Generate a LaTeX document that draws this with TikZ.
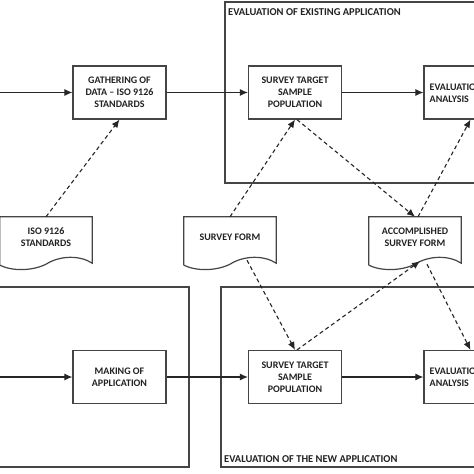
\documentclass[tikz,border=0pt]{standalone}
\usepackage{fontspec}
\setmainfont{Carlito}
\usetikzlibrary{calc,arrows.meta}
\definecolor{linegray}{HTML}{454545}
\definecolor{textc}{HTML}{222222}
\tikzset{
  boxtxt/.style={font=\fontsize{10bp}{12bp}\selectfont\bfseries, text=textc},
  box/.style={draw=linegray, line width=1.2bp, minimum width=93bp, minimum height=53bp, align=center, inner sep=0pt, boxtxt},
  docnode/.style={minimum width=92bp, minimum height=46bp, align=center, inner sep=0pt, boxtxt},
  docline/.style={draw=linegray, line width=1.2bp},
  frame/.style={draw=linegray, line width=1.3bp},
  lbl/.style={font=\fontsize{10.5bp}{12bp}\selectfont\bfseries, text=textc, inner sep=0pt, anchor=west},
  flow/.style={-{Latex[length=8bp,width=7bp]}, line width=1.1bp, draw=black!85},
  dflow/.style={flow, dash pattern=on 4bp off 3bp},
}
\newcommand\docpath[1]{%
  \draw[docline] ($(#1.south west)+(0,2)$) -- (#1.north west) -- (#1.north east) -- (#1.south east)
    .. controls ($(#1.south east)+(-12,-8)$) and ($(#1.south east)+(-32,-8)$) .. ($(#1.south)+(0,1)$)
    .. controls ($(#1.south)+(-14,8)$) and ($(#1.south)+(-34,8)$) .. ($(#1.south west)+(0,2)$);}
\begin{document}
\begin{tikzpicture}[x=1bp,y=-1bp]
\useasboundingbox (0,0) rectangle (474,474);
\clip (0,0) rectangle (474,474);
\fill[white] (0,0) rectangle (474,474);
% frames
\draw[frame] (225,2) rectangle (490,183);
\draw[frame] (-10,287) rectangle (189,467);
\draw[frame] (221,287) rectangle (490,467);
\node[lbl] (lab1) at (228,12) {EVALUATION OF EXISTING APPLICATION};
\node[lbl] (lab2) at (224,459) {EVALUATION OF THE NEW APPLICATION};
% boxes
\node[box] (gath) at (119.5,92.5) {GATHERING OF\\DATA -- ISO 9126\\STANDARDS};
\node[box] (st1) at (295,92.5) {SURVEY TARGET\\SAMPLE\\POPULATION};
\node[box] (ev1) at (470.5,92.5) {};
\node[boxtxt, anchor=west, align=left, inner sep=0pt] (ev1t) at (429.5,93) {EVALUATION\\ANALYSIS};
\node[box] (mk) at (119.5,377) {MAKING OF\\APPLICATION};
\node[box] (st2) at (295,377) {SURVEY TARGET\\SAMPLE\\POPULATION};
\node[box] (ev2) at (470.5,377) {};
\node[boxtxt, anchor=west, align=left, inner sep=0pt] (ev2t) at (429.5,377) {EVALUATION\\ANALYSIS};
% documents
\node[docnode] (iso) at (46,240) {};
\node[boxtxt, align=center] (isot) at (46,237) {ISO 9126\\STANDARDS};
\node[docnode] (sf) at (230,240) {};
\node[boxtxt] (sft) at (230,237) {SURVEY FORM};
\node[docnode] (acc) at (415,240) {};
\node[boxtxt, align=center] (acct) at (415,237) {ACCOMPLISHED\\SURVEY FORM};
\docpath{iso}
\docpath{sf}
\docpath{acc}
% entry points
\coordinate (in1) at (0,92.5);
\coordinate (in2) at (0,377);
% solid flows
\draw[flow] (in1) -- (gath.west);
\draw[flow] (gath.east) -- (st1.west);
\draw[flow] (st1.east) -- (ev1.west);
\draw[flow] (in2) -- (mk.west);
\draw[flow] (mk.east) -- (st2.west);
\draw[flow] (st2.east) -- (ev2.west);
% dashed flows
\draw[dflow] (iso.north) -- (gath.south);
\draw[dflow] (sf.north) -- (st1.south);
\draw[dflow] ($(st1.south)+(2,0)$) -- (acc.north);
\draw[dflow] ($(acc.north)+(3,0)$) -- (ev1.south);
\draw[dflow] ($(sf.south)+(17,-3)$) -- (st2.north);
\draw[dflow] ($(st2.north)+(2,0)$) -- ($(acc.south)+(5,-2)$);
\draw[dflow] ($(acc.south)+(12,1)$) -- (ev2.north);
\end{tikzpicture}
\end{document}
